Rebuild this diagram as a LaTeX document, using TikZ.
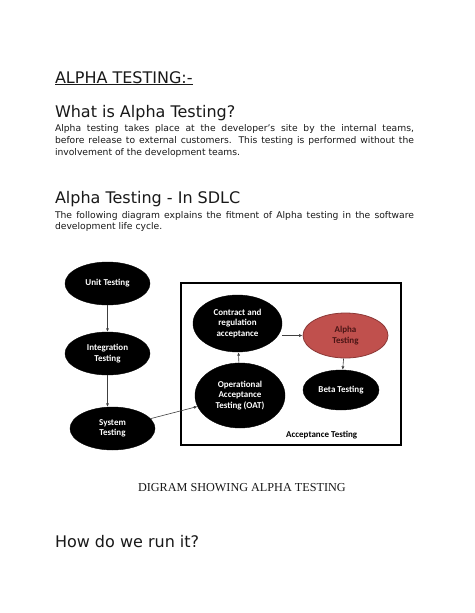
\documentclass[tikz,border=0pt]{standalone}
\usepackage{fontspec}
\setmainfont{DejaVu Sans}
\newfontfamily\carl{Carlito}
\newfontfamily\capserif{Liberation Serif}
\usetikzlibrary{shapes.geometric,arrows.meta}
\definecolor{alphared}{HTML}{C0504D}
\definecolor{alphaedge}{HTML}{8C3836}
\definecolor{alphatext}{HTML}{4A1515}
\definecolor{arrowgrey}{HTML}{404040}
\tikzset{
  txt/.style={anchor=base west,inner sep=0pt,outer sep=0pt,text=black!90},
  headtxt/.style={txt,font=\fontsize{16}{19}\selectfont},
  bodytxt/.style={txt,font=\fontsize{9.2}{12}\selectfont},
  blackell/.style={ellipse,fill=black,draw=black,inner sep=0pt,text=white,align=center,font=\carl\bfseries\fontsize{9}{10.5}\selectfont},
  redell/.style={ellipse,fill=alphared,draw=alphaedge,line width=0.8pt,inner sep=0pt,text=alphatext,align=center,font=\carl\bfseries\fontsize{9}{10.5}\selectfont},
  conn/.style={draw=arrowgrey,line width=0.6pt,-{Latex[length=3.5pt,width=3pt]}},
}
\begin{document}
\begin{tikzpicture}[x=1pt,y=-1pt]
\useasboundingbox[fill=white] (0,0) rectangle (474,613);
% headings and text
\node[headtxt] (h1) at (55,83) {\underline{ALPHA TESTING:-}};
\node[headtxt] (h2) at (55,117) {What is Alpha Testing?};
\node[bodytxt] (p1) at (55,131) {\makebox[359pt][s]{Alpha testing takes place at the developer's site by the internal teams,}};
\node[bodytxt] (p2) at (55,143) {\makebox[359pt][s]{before release to external customers. This testing is performed without the}};
\node[bodytxt] (p3) at (55,155) {involvement of the development teams.};
\node[headtxt] (h3) at (55,203) {Alpha Testing - In SDLC};
\node[bodytxt] (p4) at (55,218) {\makebox[359pt][s]{The following diagram explains the fitment of Alpha testing in the software}};
\node[bodytxt] (p5) at (55,229.5) {development life cycle.};
% diagram
\node[blackell,minimum width=85pt,minimum height=43pt] (unit) at (107.5,283.5) {Unit Testing};
\node[blackell,minimum width=85pt,minimum height=43pt] (integ) at (107.5,353.5) {Integration\\Testing};
\node[blackell,minimum width=85pt,minimum height=43pt] (sys) at (112.5,428.5) {System\\Testing};
\draw[line width=1.1pt] (181,283) rectangle (401,445);
\node[blackell,minimum width=89pt,minimum height=57pt] (contract) at (237.5,323.5) {Contract and\\regulation\\acceptance};
\node[redell,minimum width=85pt,minimum height=45pt] (alpha) at (345.5,335.5) {Alpha\\Testing};
\node[blackell,minimum width=76pt,minimum height=40pt] (beta) at (341,390) {Beta Testing};
\node[blackell,minimum width=90pt,minimum height=65pt] (oat) at (240,395.5) {Operational\\Acceptance\\Testing (OAT)};
\node[anchor=base west,inner sep=0pt,font=\carl\bfseries\fontsize{9}{10}\selectfont] (acc) at (286,437) {Acceptance Testing};
\draw[conn] (unit) -- (integ);
\draw[conn] (integ.south) -- (integ.south |- sys.north);
\draw[conn] (sys) -- (oat);
\draw[conn] (oat) -- (contract);
\draw[conn] (contract.east |- alpha.west) -- (alpha.west);
\draw[conn] (alpha) -- (beta);
% caption
\node[txt,font=\capserif\fontsize{12.2}{14}\selectfont] (cap) at (138,491) {DIGRAM SHOWING ALPHA TESTING};
\node[headtxt] (h4) at (55,547) {How do we run it?};
\end{tikzpicture}
\end{document}
